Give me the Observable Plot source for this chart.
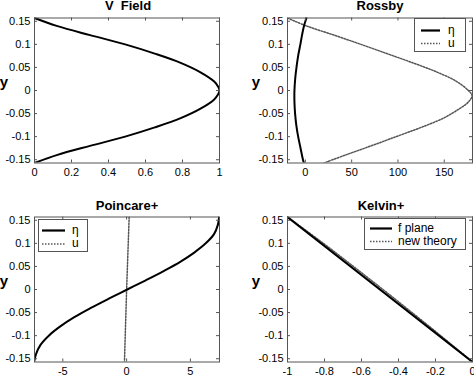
<!DOCTYPE html>
<html><head><meta charset="utf-8">
<script src="https://cdn.jsdelivr.net/npm/d3@7"></script>
<script src="https://cdn.jsdelivr.net/npm/@observablehq/plot@0.6"></script>
<style>
body{margin:0;background:#fff;}
#root{position:relative;width:474px;height:375px;overflow:hidden;font-family:"Liberation Sans",Arial,sans-serif;background:#fff;}
.panel{position:absolute;width:237px;height:187px;}
.panel svg{overflow:visible;}
#overlay{position:absolute;left:0;top:0;pointer-events:none;}
</style></head>
<body><div id="root"></div>
<script>
// ---- data ----
const yDomain = [-0.1571, 0.1571];
const yTicks = [-0.15, -0.1, -0.05, 0, 0.05, 0.1, 0.15];

// V Field
const vFieldY = [0.1571, 0.14, 0.12, 0.10, 0.08, 0.06, 0.04, 0.02, 0.01, 0, -0.01, -0.02, -0.04, -0.06, -0.08, -0.10, -0.12, -0.14, -0.1571];
const vFieldX = [0, 0.12, 0.30, 0.49, 0.65, 0.79, 0.895, 0.97, 0.99, 1, 0.99, 0.97, 0.895, 0.79, 0.65, 0.49, 0.30, 0.12, 0];
const vFieldXTicks = [0, 0.2, 0.4, 0.6, 0.8, 1];

// Rossby
const rossbyEtaY = [0.1571, 0.14, 0.12, 0.10, 0.075, 0.05, 0.025, 0, -0.025, -0.05, -0.075, -0.10, -0.125, -0.15, -0.1571];
const rossbyEtaX = [1.2, -1.5, -3.6, -5.4, -7.8, -9.6, -11, -11.8, -11.8, -11.1, -9.8, -7.8, -5.2, -2.6, -1.5];
const rossbyUY = [0.1571, 0.14, 0.12, 0.10, 0.08, 0.06, 0.04, 0.02, 0, -0.011, -0.025, -0.04, -0.06, -0.08, -0.10, -0.12, -0.14, -0.1571];
const rossbyUX = [-19.3, 1, 31, 60, 88, 116, 142, 163, 176, 180, 176, 166, 149, 125, 98, 71, 43, 20];
const rossbyXTicks = [0, 50, 100, 150];

// Poincare+
const poincareEtaY = [-0.1571, -0.14, -0.12, -0.10, -0.08, -0.06, -0.04, -0.02, 0, 0.02, 0.04, 0.06, 0.08, 0.10, 0.12, 0.14, 0.1571];
const poincareEtaX = [-7.25, -7.1, -6.75, -6.1, -5.2, -4.1, -2.8, -1.4, 0.05, 1.5, 2.9, 4.2, 5.3, 6.2, 6.85, 7.15, 7.25];
const poincareUY = [0.1571, 0, -0.1571];
const poincareUX = [0.2, 0.0, -0.17];
const poincareXTicks = [-5, 0, 5];

// Kelvin+
const kelvinFY = [0.1571, -0.1571];
const kelvinFX = [-1, 0];
const kelvinNewY = [0.1571, 0.1, 0.05, 0, -0.05, -0.1, -0.1571];
const kelvinNewX = [-1, -0.806, -0.644, -0.484, -0.327, -0.172, 0];
const kelvinXTicks = [-1, -0.8, -0.6, -0.4, -0.2, 0];

// ---- drawing ----
const pts = (xs, ys) => xs.map((x, i) => ({x, y: ys[i]}));
const fmt = d => String(d);
const root = document.getElementById("root");
const FW = 185, FH = 145, TK = 3;
const solid = {x: "x", y: "y", stroke: "#000", strokeWidth: 2, curve: "catmull-rom", clip: true};
const dotted = {x: "x", y: "y", stroke: "#555", strokeWidth: 1.5, strokeDasharray: "1.5,1.5", curve: "catmull-rom", clip: true};

function panel(left, top, mL, xDomain, xTicks, lines) {
  const div = document.createElement("div");
  div.className = "panel";
  div.style.left = left + "px";
  div.style.top = top + "px";
  const p = Plot.plot({
    width: 237, height: 187,
    marginLeft: mL, marginRight: 237 - mL - FW, marginTop: 17.5, marginBottom: 24.5,
    style: {fontFamily: "'Liberation Sans', Arial, sans-serif", fontSize: "11px", color: "#000", background: "transparent", overflow: "visible"},
    x: {domain: xDomain},
    y: {domain: yDomain},
    marks: [
      ...lines,
      Plot.tickY(yTicks, {y: d => d, insetRight: FW - TK, stroke: "#555"}),
      Plot.tickY(yTicks, {y: d => d, insetLeft: FW - TK, stroke: "#555"}),
      Plot.tickX(xTicks, {x: d => d, insetTop: FH - TK, stroke: "#555"}),
      Plot.tickX(xTicks, {x: d => d, insetBottom: FH - TK, stroke: "#555"}),
      Plot.frame({stroke: "#555"}),
      Plot.axisX(xTicks, {tickSize: 0, tickPadding: 5, tickFormat: fmt, label: null}),
      Plot.axisY(yTicks, {tickSize: 0, tickPadding: 4, tickFormat: fmt, label: null})
    ]
  });
  div.appendChild(p);
  root.appendChild(div);
}

panel(0, 0, 34, [0, 1], vFieldXTicks, [
  Plot.line(pts(vFieldX, vFieldY), solid)
]);
panel(237, 0, 50, [-19.3, 180.5], rossbyXTicks, [
  Plot.line(pts(rossbyUX, rossbyUY), dotted),
  Plot.line(pts(rossbyEtaX, rossbyEtaY), solid)
]);
panel(0, 199, 34, [-7.22, 7.28], poincareXTicks, [
  Plot.line(pts(poincareUX, poincareUY), {...dotted, curve: "linear"}),
  Plot.line(pts(poincareEtaX, poincareEtaY), solid)
]);
panel(237, 199, 50, [-1, 0], kelvinXTicks, [
  Plot.line(pts(kelvinNewX, kelvinNewY), dotted),
  Plot.line(pts(kelvinFX, kelvinFY), {...solid, curve: "linear"})
]);

// ---- overlay: titles, y labels, legends ----
const NS = "http://www.w3.org/2000/svg";
const ov = document.createElementNS(NS, "svg");
ov.setAttribute("id", "overlay");
ov.setAttribute("width", 474);
ov.setAttribute("height", 375);
root.appendChild(ov);
function el(tag, attrs, text) {
  const e = document.createElementNS(NS, tag);
  for (const k in attrs) e.setAttribute(k, attrs[k]);
  if (text != null) e.textContent = text;
  ov.appendChild(e);
  return e;
}
const titles = [["V  Field", 128, 9.5], ["Rossby", 380, 9.5], ["Poincare+", 127, 209.5], ["Kelvin+", 381, 209.5]];
for (const [t, x, y] of titles) el("text", {x, y, "text-anchor": "middle", "font-size": 13, "font-weight": "bold", "font-family": "'Liberation Sans', Arial, sans-serif", style: "white-space:pre"}, t);
for (const [x, y] of [[4, 87], [256, 87], [4, 286], [256, 286]])
  el("text", {x, y, "text-anchor": "middle", "font-size": 15, "font-weight": "bold", "font-family": "'Liberation Sans', Arial, sans-serif"}, "y");

function legend(x, y, w, h, rows, sx0, sx1, tx) {
  el("rect", {x: x + 0.5, y: y + 0.5, width: w, height: h, fill: "#fff", stroke: "#555"});
  for (const r of rows) {
    const cy = y + r.dy;
    el("line", {x1: x + sx0, x2: x + sx1, y1: cy, y2: cy, stroke: r.dot ? "#555" : "#000", "stroke-width": r.dot ? 1.5 : 2.2, "stroke-dasharray": r.dot ? "1.5,1.5" : "none"});
    el("text", {x: x + tx, y: cy, "dominant-baseline": "middle", "font-size": 12, "font-family": "'Liberation Sans', Arial, sans-serif"}, r.label);
  }
}
legend(414, 18, 51, 33, [{label: "η", dy: 12.5}, {label: "u", dy: 25.5, dot: true}], 7, 26, 34);
legend(38, 219, 49, 32, [{label: "η", dy: 11.5}, {label: "u", dy: 25, dot: true}], 4, 27, 34);
legend(364, 218, 101, 31, [{label: "f plane", dy: 10.5}, {label: "new theory", dy: 23.5, dot: true}], 6, 28, 34);
</script>
</body></html>
